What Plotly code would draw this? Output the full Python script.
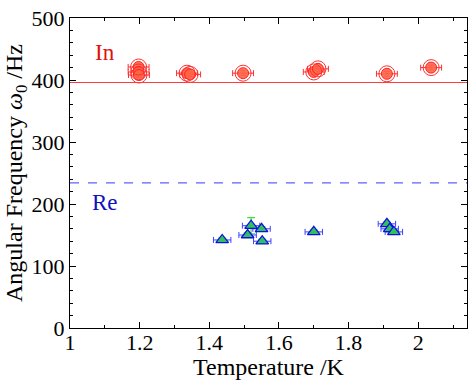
import plotly.graph_objects as go

# In data
in_T = [1.197, 1.197, 1.198, 1.336, 1.345, 1.497, 1.700, 1.712, 1.910, 2.037]
in_w = [421, 413, 408, 411, 409, 411, 413, 418, 410, 420]
in_dT = [0.03] * 10
in_dw = [4] * 10

# Re data
re_T = [1.437, 1.520, 1.550, 1.510, 1.552, 1.700, 1.910, 1.918, 1.930]
re_w = [142, 165, 160, 150, 140, 155, 168, 160, 155]
re_dT = [0.025] * 9
re_dw = [3, 13, 3, 3, 3, 3, 3, 3, 3]

in_line = 396
re_line = 234

xticks = [1, 1.2, 1.4, 1.6, 1.8, 2]
xtick_labels = ["1", "1.2", "1.4", "1.6", "1.8", "2"]
yticks = [0, 100, 200, 300, 400, 500]

font = "Liberation Serif"

fig = go.Figure()

fig.add_hline(y=in_line, line=dict(color="#ff3b3b", width=1.2))
fig.add_hline(y=re_line, line=dict(color="#6060ff", width=1.2, dash="dash"))

fig.add_trace(go.Scatter(
    x=in_T, y=in_w, mode="markers",
    error_x=dict(type="data", array=in_dT, color="#ff3030", thickness=1, width=3),
    error_y=dict(type="data", array=in_dw, color="#ff3030", thickness=1, width=3),
    marker=dict(symbol="circle", size=11, color="rgba(255,100,70,0.9)",
                line=dict(color="#ff2020", width=1)),
    showlegend=False))
fig.add_trace(go.Scatter(
    x=in_T, y=in_w, mode="markers",
    marker=dict(symbol="circle-open", size=16, color="#ff3030", line=dict(width=1)),
    showlegend=False))

fig.add_trace(go.Scatter(
    x=re_T, y=re_w, mode="markers",
    error_x=dict(type="data", array=re_dT, color="#4040ff", thickness=1, width=3),
    error_y=dict(type="data", array=re_dw, color="#40e040", thickness=1.2, width=4),
    marker=dict(symbol="triangle-up", size=11, color="#30c060",
                line=dict(color="#1010e0", width=1.3)),
    showlegend=False))

fig.add_annotation(x=1.1, y=444, text="In", showarrow=False,
                   font=dict(family=font, size=23, color="#e01010"))
fig.add_annotation(x=1.1, y=202, text="Re", showarrow=False,
                   font=dict(family=font, size=23, color="#1010c0"))

axis_common = dict(showline=True, linecolor="black", linewidth=1.2, mirror="ticks",
                   ticks="inside", ticklen=6, tickcolor="black", showgrid=False,
                   zeroline=False, ticklabeloverflow="allow",
                   tickfont=dict(family=font, size=22, color="black"))

fig.update_xaxes(range=[1, 2.14], tickvals=xticks, ticktext=xtick_labels,
                 ticklabelstandoff=-6,
                 minor=dict(dtick=0.1, ticks="inside", ticklen=3, tickcolor="black"),
                 title=dict(text="Temperature /K", font=dict(family=font, size=24, color="black"),
                            standoff=0),
                 **axis_common)
fig.update_yaxes(range=[0, 500], tickvals=yticks,
                 minor=dict(dtick=20, ticks="inside", ticklen=3, tickcolor="black"),
                 title=dict(text="Angular Frequency <i>ω</i><sub>0</sub> /Hz",
                            font=dict(family=font, size=24, color="black"), standoff=2),
                 **axis_common)

fig.update_layout(width=474, height=385, margin=dict(l=70, r=6, t=9, b=57),
                  plot_bgcolor="white", paper_bgcolor="white")

fig.write_html("out.html", config={"displayModeBar": False},
               post_script="document.body.style.margin='0';")
